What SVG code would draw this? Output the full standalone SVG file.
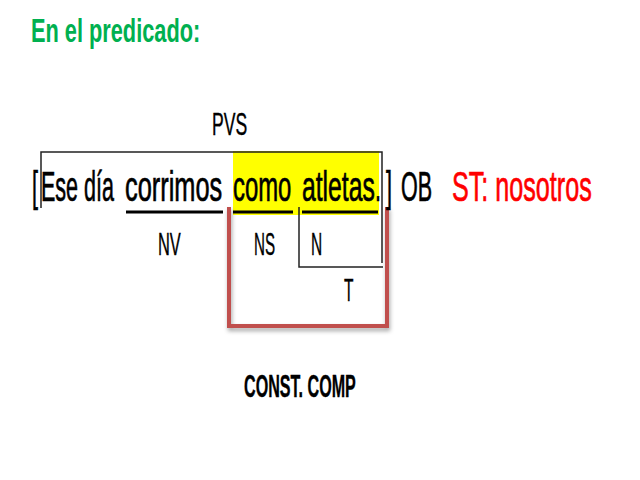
<svg xmlns="http://www.w3.org/2000/svg" width="640" height="480" viewBox="0 0 640 480">
<style>
text{font-family:"Liberation Sans","Open Sans",sans-serif;fill:#000}
.main{font-size:43px;stroke:#000;stroke-width:0.7}
.lab{font-size:31px;stroke:#000;stroke-width:0.4}
.ul{stroke:#000;stroke-width:3;fill:none}
.thin{stroke:#222;stroke-width:1.5;fill:none}
.red{stroke:#C0504D;stroke-width:4;fill:none}
</style>
<defs>
<filter id="sh" x="-10%" y="-10%" width="130%" height="130%">
<feDropShadow dx="1" dy="3" stdDeviation="2" flood-color="#000" flood-opacity="0.35"/>
</filter>
</defs>
<rect width="640" height="480" fill="#fff"/>
<g id="title">
<text transform="translate(31,42) scale(0.64,1)" style="font-size:34px;font-weight:bold;fill:#00B050">En el predicado:</text>
</g>
<g id="highlight">
<rect x="233" y="151" width="146" height="64" fill="#FFFF00"/>
</g>
<g id="connectors">
<path class="thin" d="M41,208 V152 H382 V263"/>
<path class="thin" d="M299,207 V267 H383"/>
<path class="red" d="M229,207 V326 H387 V207" filter="url(#sh)"/>
<line class="ul" x1="126" y1="212" x2="223" y2="212"/>
<line class="ul" x1="233" y1="212" x2="293" y2="212"/>
<line class="ul" x1="302" y1="212" x2="378" y2="212"/>
</g>
<g id="pvs">
<text class="lab" transform="translate(212,135) scale(0.55,1)" style="font-size:32px">PVS</text>
</g>
<g id="sentence">
<text class="main" transform="translate(32,201) scale(0.5,1)">[</text>
<text class="main" transform="translate(41,201) scale(0.5,1)">Ese día</text>
<text class="main" transform="translate(125,201) scale(0.59,1)">corrimos</text>
<text class="main" transform="translate(233,201) scale(0.555,1)">como</text>
<text class="main" transform="translate(302,201) scale(0.575,1)">atletas</text>
<text class="main" transform="translate(375,201) scale(0.5,1)">.</text>
<text class="main" transform="translate(386,201) scale(0.5,1)">]</text>
<text class="main" transform="translate(401,201) scale(0.5,1)">OB</text>
</g>
<g id="st">
<text class="main" transform="translate(452,201) scale(0.585,1)" style="fill:#FF0000;stroke:#FF0000">ST: nosotros</text>
</g>
<g id="nv"><text class="lab" transform="translate(158,255) scale(0.53,1)">NV</text></g>
<g id="ns"><text class="lab" transform="translate(254,255) scale(0.49,1)">NS</text></g>
<g id="n"><text class="lab" transform="translate(311,255) scale(0.5,1)">N</text></g>
<g id="t"><text class="lab" transform="translate(344,301) scale(0.5,1)">T</text></g>
<g id="constcomp">
<text class="lab" transform="translate(244,397) scale(0.52,1)" style="font-weight:bold">CONST. COMP</text>
</g>
</svg>
